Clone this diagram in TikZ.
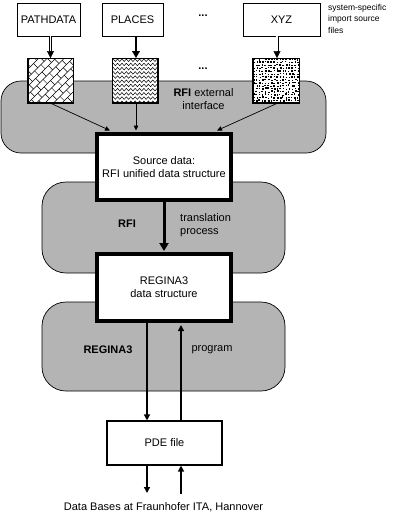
\documentclass[tikz,border=0pt]{standalone}
\usepackage{fontspec}
\setmainfont{Liberation Sans}
\usetikzlibrary{arrows.meta,decorations.pathmorphing}
\definecolor{regiongray}{RGB}{180,180,180}
\begin{document}
\begin{tikzpicture}[x=1pt,y=-1pt,
  font=\fontsize{11}{13}\selectfont,
  region/.style={draw, fill=regiongray, line width=0.7pt, rounded corners=20pt},
  filebox/.style={draw, fill=white, line width=0.9pt, minimum height=33pt, inner sep=0pt},
  patbox/.style={draw, line width=0.9pt, minimum width=45pt, minimum height=44pt, inner sep=0pt},
  bigbox/.style={draw, fill=white, line width=4pt, minimum width=134pt, minimum height=66pt, align=center, inner sep=0pt},
  pdebox/.style={draw, fill=white, line width=1.1pt, minimum width=115pt, minimum height=44pt, inner sep=0pt},
  lbl/.style={inner sep=0pt, align=center},
  dblline/.style={double, double distance=1.4pt, line width=0.8pt},
  tiponly/.style={line width=0.4pt, -{Triangle[width=7pt,length=7pt]}},
  thickplace/.style={line width=2.2pt, -{Triangle[width=7.5pt,length=7pt]}},
  thinarrow/.style={line width=0.7pt, -{Triangle[width=4.5pt,length=5pt]}},
  bigarrow/.style={line width=3pt, -{Triangle[width=9pt,length=8pt]}},
  medarrow/.style={line width=1.3pt, -{Triangle[width=6pt,length=6pt]}},
  note/.style={inner sep=0pt, align=left, anchor=north west, font=\fontsize{8.5}{11.5}\selectfont}
]
\useasboundingbox (0,0) rectangle (400,517);

% gray regions
\draw[region] (1,81) rectangle (326,153);
\draw[region, rounded corners=24pt] (42,182) rectangle (285,273);
\draw[region, rounded corners=24pt] (42,302) rectangle (285,391);

% source file boxes
\node[filebox, minimum width=63pt] (pathdata) at (48.5,19.5) {PATHDATA};
\node[filebox, minimum width=61pt] (places) at (132.5,19.5) {PLACES};
\node[filebox, minimum width=77pt] (xyz) at (281.5,19.5) {XYZ};
\node[lbl] (dots1) at (203,16) {\textbf{...}};
\node[lbl] (dots2) at (203,69) {\textbf{...}};
\node[note] (note) at (328,4) {system-specific\\import source\\files};

% pattern boxes
\node[patbox, fill=white] (pat1) at (50.5,80.5) {};
\node[patbox, fill=white] (pat2) at (135,80.5) {};
\node[patbox, fill=white, minimum width=46pt] (pat3) at (276,80.5) {};

% pattern 1: diagonal bricks
\begin{scope}
  \clip (pat1.south west) rectangle (pat1.north east);
  \begin{scope}[shift={(pat1.center)}, rotate=45, line width=0.5pt]
    \foreach \k in {-7,...,7} {
      \draw (-40,\k*6) -- (40,\k*6);
      \pgfmathsetmacro\off{mod(\k+20,2)*4.5}
      \foreach \j in {-5,...,5} {
        \draw (\j*9+\off,\k*6) -- (\j*9+\off,\k*6+6);
      }
    }
  \end{scope}
\end{scope}
\draw[line width=0.9pt] (pat1.south west) rectangle (pat1.north east);

% pattern 2: zigzag rows
\begin{scope}
  \clip (pat2.south west) rectangle (pat2.north east);
  \foreach \k in {0,...,10} {
    \draw[line width=0.5pt, decorate, decoration={zigzag, segment length=4.4pt, amplitude=1.3pt}]
      ([yshift=-2.2pt-\k*4.2pt]pat2.north west) -- ++(50pt,0);
  }
\end{scope}
\draw[line width=0.9pt] (pat2.south west) rectangle (pat2.north east);

% pattern 3: random dots
\begin{scope}
  \clip (pat3.south west) rectangle (pat3.north east);
  \pgfmathsetseed{4242}
  \foreach \i in {0,...,15} {
    \foreach \j in {0,...,15} {
      \pgfmathsetmacro\dx{rand*0.7}
      \pgfmathsetmacro\dy{rand*0.7}
      \fill ([xshift=\i*2.95pt+\dx pt+0.5pt, yshift=-\j*2.95pt-\dy pt-0.5pt]pat3.north west) rectangle ++(1.5pt,-1.5pt);
    }
  }
\end{scope}
\draw[line width=0.9pt] (pat3.south west) rectangle (pat3.north east);

% arrows source files -> pattern boxes
\draw[dblline] (pat1.north |- pathdata.south) -- ([yshift=6.5pt]pat1.north);
\draw[tiponly] ([yshift=7pt]pat1.north) -- (pat1.north);
\draw[thickplace] ([xshift=1pt]pat2.north |- places.south) -- ([xshift=1pt]pat2.north);
\draw[dblline] ([xshift=1pt]pat3.north |- xyz.south) -- ([xshift=1pt,yshift=6.5pt]pat3.north);
\draw[tiponly] ([xshift=1pt,yshift=7pt]pat3.north) -- ([xshift=1pt]pat3.north);

% big boxes
\node[bigbox] (src) at (164,167) {Source data:\\RFI unified data structure};
\node[bigbox, minimum height=67pt] (reg) at (164,287.5) {REGINA3\\data structure};
\node[pdebox] (pde) at (164.5,443) {PDE file};

% arrows pattern boxes -> source data
\draw[thinarrow] ([xshift=-0.5pt]pat1.south) -- ([xshift=-54pt,yshift=1.5pt]src.north);
\draw[thinarrow] ([xshift=1pt]pat2.south) -- ([xshift=-28pt,yshift=1.5pt]src.north);
\draw[thinarrow] ([xshift=2pt]pat3.south) -- ([xshift=53pt,yshift=1.5pt]src.north);

% labels in regions
\node[lbl] (lblext) at (203.5,99.5) {\textbf{RFI} external\\interface};
\node[lbl] (lblrfi) at (127,224) {\textbf{RFI}};
\node[lbl, align=left, anchor=west] (lbltrans) at (180,225) {translation\\process};
\node[lbl] (lblreg) at (108,350) {\textbf{REGINA3}};
\node[lbl] (lblprog) at (212,350) {program};

% translation arrow
\draw[bigarrow] (src.south) -- ([yshift=1pt]reg.north);

% program arrows
\draw[medarrow] ([xshift=-17pt]reg.south) -- ([xshift=-17.5pt]pde.north);
\draw[medarrow] ([xshift=16.5pt]pde.north) -- ([xshift=17pt,yshift=-2pt]reg.south);

% data bases
\coordinate (dbdown) at (147,493);
\coordinate (dbup) at (181,494);
\draw[medarrow] ([xshift=-17.5pt]pde.south) -- (dbdown);
\draw[medarrow] (dbup) -- ([xshift=16.5pt]pde.south);
\node[lbl] (db) at (163.5,507) {Data Bases at Fraunhofer ITA, Hannover};
\end{tikzpicture}
\end{document}
